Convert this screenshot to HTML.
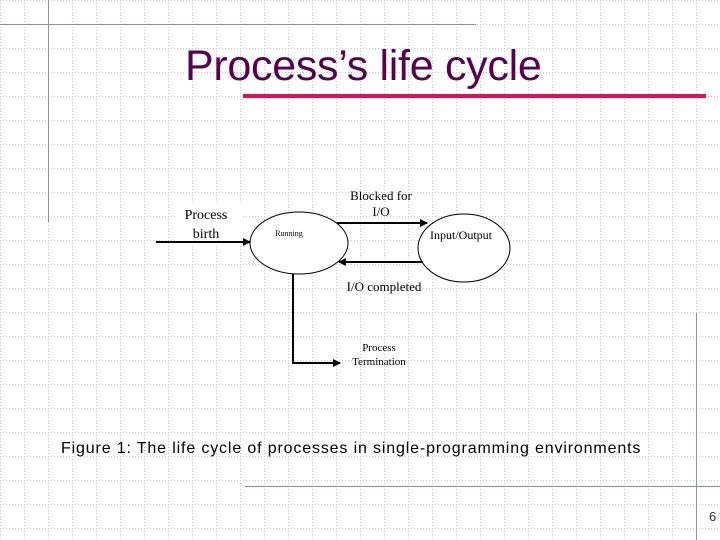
<!DOCTYPE html>
<html><head><meta charset="utf-8"><style>
html,body{margin:0;padding:0}
body{width:720px;height:540px;position:relative;overflow:hidden;background:#fff}
.a{position:absolute}
</style></head><body>
<svg class="a" style="left:0;top:0" width="720" height="540">
<defs><pattern id="g" width="24" height="24" patternUnits="userSpaceOnUse">
<line x1="0.5" y1="0" x2="0.5" y2="24" stroke="#c8c8c8" stroke-dasharray="1 2"/>
<line x1="0" y1="0.5" x2="24" y2="0.5" stroke="#c8c8c8" stroke-dasharray="1 2"/>
</pattern></defs>
<rect width="720" height="540" fill="url(#g)"/>
</svg>
<div class="a" style="left:48px;top:0;width:1px;height:222px;background:#8890aa"></div>
<div class="a" style="left:0;top:24px;width:476px;height:1px;background:#8890aa"></div>
<div class="a" style="left:696px;top:313px;width:1px;height:227px;background:#8890aa"></div>
<div class="a" style="left:245px;top:486px;width:475px;height:1px;background:#8890aa"></div>
<div class="a" style="left:243px;top:94px;width:463px;height:4px;background:#e0105a"></div>
<div class="a" style="left:185px;top:42px;font:43px 'Liberation Sans',sans-serif;color:#5a0050;white-space:nowrap;letter-spacing:-0.3px">Process’s life cycle</div>
<svg class="a" style="left:0;top:0" width="720" height="540">
<defs><marker id="m" markerWidth="8" markerHeight="8" refX="7" refY="4" orient="auto" markerUnits="userSpaceOnUse"><path d="M0,0 L8,4 L0,8z" fill="#000"/></marker></defs>
<rect x="176" y="203" width="66" height="42" fill="#fff"/>
<ellipse cx="299" cy="243" rx="49" ry="31" fill="#fff" stroke="#000"/>
<ellipse cx="464" cy="248" rx="46" ry="34" fill="#fff" stroke="#000"/>
<g stroke="#000" stroke-width="2" fill="none">
<line x1="156" y1="242" x2="250" y2="242" marker-end="url(#m)"/>
<line x1="337" y1="223" x2="427" y2="223" marker-end="url(#m)"/>
<line x1="423" y1="262" x2="339" y2="262" marker-end="url(#m)"/>
<polyline points="293,274 293,363 340,363" marker-end="url(#m)"/>
</g>
<g font-family="'Liberation Serif',serif" fill="#000" text-anchor="middle">
<text x="206" y="219" font-size="14">Process</text>
<text x="206" y="238" font-size="14">birth</text>
<text x="381" y="200" font-size="13">Blocked for</text>
<text x="381" y="216" font-size="13">I/O</text>
<text x="289" y="236" font-size="8">Running</text>
<text x="461" y="239" font-size="12">Input/Output</text>
<text x="384" y="291" font-size="13">I/O completed</text>
<text x="379" y="351" font-size="11">Process</text>
<text x="379" y="365" font-size="11">Termination</text>
</g>
</svg>
<div class="a" style="left:61px;top:440px;font:16px 'Liberation Sans',sans-serif;color:#000;white-space:nowrap;letter-spacing:0.85px">Figure 1: The life cycle of processes in single-programming environments</div>
<div class="a" style="left:709px;top:509px;font:13px 'Liberation Sans',sans-serif;color:#333">6</div>
</body></html>
